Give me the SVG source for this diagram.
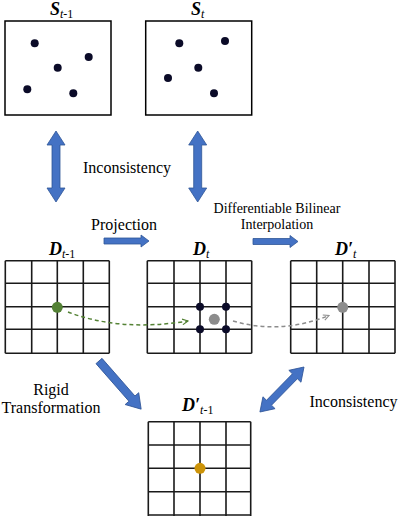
<svg xmlns="http://www.w3.org/2000/svg" width="400" height="516" viewBox="0 0 400 516">
<style>
  .box{fill:#fff;stroke:#000;stroke-width:1.5}
  .grid{fill:none;stroke:#1a1a1a;stroke-width:1.6}
  .pt{fill:#0b0b28}
  text{font-family:"Liberation Serif","DejaVu Serif",serif}
  .lbl{font-size:16px;fill:#000;text-anchor:middle}
  .lbl14{font-size:14px;fill:#000;text-anchor:middle}
  .ttl{font-size:18px;font-weight:bold;font-style:italic;fill:#000}
  .sub{font-size:12px;font-weight:normal}
  .blue{fill:#4472C4;stroke:#2F5597;stroke-width:0.8}
  .dash{fill:none;stroke-width:1.5;stroke-dasharray:4 3}
</style>
<defs>
  <marker id="hg" viewBox="0 0 10 10" refX="9" refY="5" markerWidth="7" markerHeight="7" orient="auto" markerUnits="userSpaceOnUse">
    <path d="M1,1 L9,5 L1,9" fill="none" stroke="#548235" stroke-width="1.6"/>
  </marker>
  <marker id="hy" viewBox="0 0 10 10" refX="9" refY="5" markerWidth="7" markerHeight="7" orient="auto" markerUnits="userSpaceOnUse">
    <path d="M1,1 L9,5 L1,9" fill="none" stroke="#8c8c8c" stroke-width="1.6"/>
  </marker>
</defs>

<g id="S_t-1">
  <rect class="box" x="5" y="21" width="106" height="94"/>
  <circle class="pt" cx="34.7" cy="43.3" r="4"/>
  <circle class="pt" cx="88.7" cy="57" r="4"/>
  <circle class="pt" cx="57.7" cy="67.7" r="4"/>
  <circle class="pt" cx="27.3" cy="89.3" r="4"/>
  <circle class="pt" cx="73.3" cy="93.3" r="4"/>
  <text class="ttl" x="50" y="15" font-family="Liberation Serif, serif">S<tspan class="sub" dy="3">t</tspan><tspan class="sub" style="font-style:normal">-1</tspan></text>
</g>

<g id="S_t">
  <rect class="box" x="145.7" y="21" width="106" height="94"/>
  <circle class="pt" cx="179.3" cy="43.3" r="4"/>
  <circle class="pt" cx="225" cy="41" r="4"/>
  <circle class="pt" cx="198.3" cy="67.7" r="4"/>
  <circle class="pt" cx="168" cy="78" r="4"/>
  <circle class="pt" cx="214" cy="93.3" r="4"/>
  <text class="ttl" x="191" y="15" font-family="Liberation Serif, serif">S<tspan class="sub" dy="3">t</tspan></text>
</g>

<g id="D_t-1">
  <path class="grid" d="M5.3,260.7 H109.3 M5.3,283.3 H109.3 M5.3,306.7 H109.3 M5.3,329.3 H109.3 M5.3,353.3 H109.3 M5.3,260.7 V353.3 M31.7,260.7 V353.3 M57.3,260.7 V353.3 M83.3,260.7 V353.3 M109.3,260.7 V353.3"/>
  <circle cx="57.3" cy="307.3" r="5.5" fill="#538135"/>
  <text class="ttl" x="49" y="255" font-family="Liberation Serif, serif">D<tspan class="sub" dy="3">t</tspan><tspan class="sub" style="font-style:normal">-1</tspan></text>
</g>

<g id="D_t">
  <path class="grid" d="M147.3,260.7 H251.7 M147.3,283.3 H251.7 M147.3,306.7 H251.7 M147.3,329.3 H251.7 M147.3,353.3 H251.7 M147.3,260.7 V353.3 M174,260.7 V353.3 M200,260.7 V353.3 M226,260.7 V353.3 M251.7,260.7 V353.3"/>
  <circle class="pt" cx="200" cy="306.7" r="4"/>
  <circle class="pt" cx="226" cy="306.7" r="4"/>
  <circle class="pt" cx="200" cy="329.3" r="4"/>
  <circle class="pt" cx="226" cy="329.3" r="4"/>
  <circle cx="214.3" cy="319.3" r="5.5" fill="#8c8c8c"/>
  <text class="ttl" x="193" y="255" font-family="Liberation Serif, serif">D<tspan class="sub" dy="3">t</tspan></text>
</g>

<g id="D'_t">
  <path class="grid" d="M290.7,260.7 H395 M290.7,283.3 H395 M290.7,306.7 H395 M290.7,329.3 H395 M290.7,353.3 H395 M290.7,260.7 V353.3 M316.7,260.7 V353.3 M342.7,260.7 V353.3 M369,260.7 V353.3 M395,260.7 V353.3"/>
  <circle cx="342.7" cy="307.3" r="5.5" fill="#8c8c8c"/>
  <text class="ttl" x="335" y="255" font-family="Liberation Serif, serif">D′<tspan class="sub" dy="3">t</tspan></text>
</g>

<g id="D'_t-1">
  <path class="grid" d="M148.3,421.7 H250.7 M148.3,445 H250.7 M148.3,468.3 H250.7 M148.3,491.7 H250.7 M148.3,515 H250.7 M148.3,421.7 V516 M174,421.7 V516 M200,421.7 V516 M226,421.7 V516 M250.7,421.7 V516"/>
  <circle cx="200" cy="468.3" r="5.5" fill="#CC9308"/>
  <text class="ttl" x="182" y="411" font-family="Liberation Serif, serif">D′<tspan class="sub" dy="3">t</tspan><tspan class="sub" style="font-style:normal">-1</tspan></text>
</g>

<g id="connectors">
  <path class="blue" d="M56,131 L65,145 L60,145 L60,188 L65,188 L56,202 L47,188 L52,188 L52,145 L47,145 Z"/>
  <path class="blue" d="M197.7,131 L206.7,145 L201.7,145 L201.7,188 L206.7,188 L197.7,202 L188.7,188 L193.7,188 L193.7,145 L188.7,145 Z"/>
  <path class="blue" d="M104,238 L141,238 L141,235 L149,241 L141,247 L141,244 L104,244 Z"/>
  <path class="blue" d="M253,238.5 L290,238.5 L290,235.5 L298,241.5 L290,247.5 L290,244.5 L253,244.5 Z"/>
  <path class="blue" transform="translate(99,361) rotate(48.8)" d="M0,-4 L50,-4 L50,-9 L64,0 L50,9 L50,4 L0,4 Z"/>
  <path class="blue" transform="translate(304,367) rotate(134.4)" d="M0,0 L13,-8.5 L13,-3.5 L50,-3.5 L50,-8.5 L63,0 L50,8.5 L50,3.5 L13,3.5 L13,8.5 Z"/>
  <path class="dash" stroke="#548235" d="M68,312 Q120,332 188,321" marker-end="url(#hg)"/>
  <path class="dash" stroke="#8c8c8c" d="M233,321 Q280,335 329,315.5" marker-end="url(#hy)"/>
</g>

<g id="labels">
  <text class="lbl" x="127" y="172.5" font-family="Liberation Serif, serif">Inconsistency</text>
  <text class="lbl" x="124" y="230" font-family="Liberation Serif, serif">Projection</text>
  <text class="lbl14" x="277" y="213" font-family="Liberation Serif, serif">Differentiable Bilinear</text>
  <text class="lbl14" x="277" y="229" font-family="Liberation Serif, serif">Interpolation</text>
  <text class="lbl" x="51" y="395" font-family="Liberation Serif, serif">Rigid</text>
  <text class="lbl" x="51" y="413" font-family="Liberation Serif, serif">Transformation</text>
  <text class="lbl" x="353.5" y="407" font-family="Liberation Serif, serif">Inconsistency</text>
</g>
</svg>
